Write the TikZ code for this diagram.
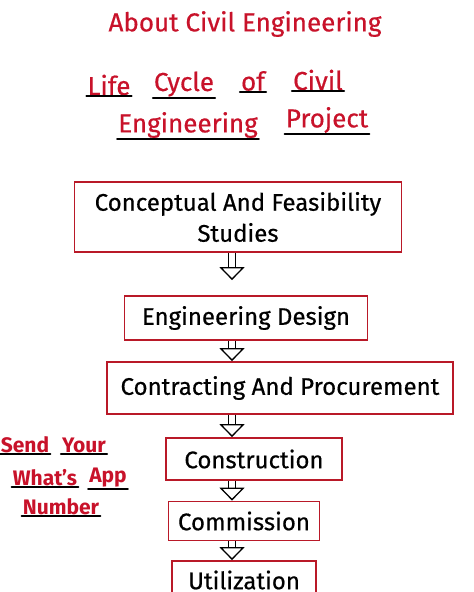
\documentclass[tikz,border=0pt]{standalone}
\usepackage{fontspec}
\setmainfont{Fira Sans}
\newfontfamily\handfont{Fira Sans}[FakeBold=0.5]
\usetikzlibrary{arrows.meta,calc}
\definecolor{hred}{RGB}{200,18,42}
\definecolor{bred}{RGB}{185,25,40}
\tikzset{
  stage/.style={draw=bred, line width=1.8pt, text=black, font=\handfont\fontsize{24}{31}\selectfont, align=center, inner sep=0pt},
  heading/.style={text=hred, font=\handfont\fontsize{26}{30}\selectfont, inner sep=1pt},
  sidetext/.style={text=hred, font=\bfseries\fontsize{21}{24}\selectfont, inner sep=1pt},
  uline/.style={black, line width=2pt, line cap=round},
  flow/.style={line width=1.3pt, double=white, double distance=6pt, -{Triangle[open, width=25pt, length=13pt, line width=1.3pt]}}
}
\begin{document}
\begin{tikzpicture}[x=1pt, y=-1pt]
			\useasboundingbox (0,0) rectangle (474,592);
			\clip (0,0) rectangle (474,592);
			% title
			\node[heading] (about) at (245,24) {About Civil Engineering};
			% heading words
			\node[heading] (life) at (109,85) {Life};
			\node[heading] (cycle) at (184,84) {Cycle};
			\node[heading] (of) at (253,81) {of};
			\node[heading] (civil) at (318,80) {Civil};
			\node[heading] (engg) at (188,125) {Engineering};
			\node[heading] (project) at (327,120) {Project};
			% heading underlines
			\draw[uline] (life.south west) -- (life.south east);
			\draw[uline] (cycle.south west) -- (cycle.south east);
			\draw[uline] (of.south west) -- (of.south east);
			\draw[uline] (civil.south west) -- (civil.south east);
			\draw[uline] (engg.south west) -- (engg.south east);
			\draw[uline] (project.south west) -- (project.south east);
			% stages
			\node[stage, minimum width=327, minimum height=70] (concept) at (238,217) {Conceptual And Feasibility\\Studies};
			\node[stage, minimum width=243, minimum height=44] (design) at (246,318) {Engineering Design};
			\node[stage, minimum width=346, minimum height=52] (contract) at (280,388) {Contracting And Procurement};
			\node[stage, minimum width=176, minimum height=42] (build) at (254,459) {Construction};
			\node[stage, minimum width=151, minimum height=39] (commission) at (244,521) {Commission};
			\node[stage, minimum width=144, minimum height=38] (use) at (244,580) {Utilization};
			% arrows
			\coordinate (axis) at (232,0);
			\draw[flow, shorten >=15pt] (concept.south -| axis) -- (design.north -| axis);
			\draw[flow] (design.south -| axis) -- (contract.north -| axis);
			\draw[flow] (contract.south -| axis) -- (build.north -| axis);
			\draw[flow] (build.south -| axis) -- (commission.north -| axis);
			\draw[flow] (commission.south -| axis) -- (use.north -| axis);
			% side note
			\node[sidetext] (send) at (25,445) {Send};
			\node[sidetext] (your) at (84,445) {Your};
			\node[sidetext] (whats) at (45,478) {What's};
			\node[sidetext] (app) at (108,478) {App};
			\node[sidetext] (number) at (61,507) {Number};
			\draw[uline] (send.south west) -- (send.south east);
			\draw[uline] (your.south west) -- (your.south east);
			\draw[uline] (whats.south west) -- (whats.south east);
			\draw[uline] (app.south west) -- (app.south east);
			\draw[uline] (number.south west) -- (number.south east);
\end{tikzpicture}
\end{document}
